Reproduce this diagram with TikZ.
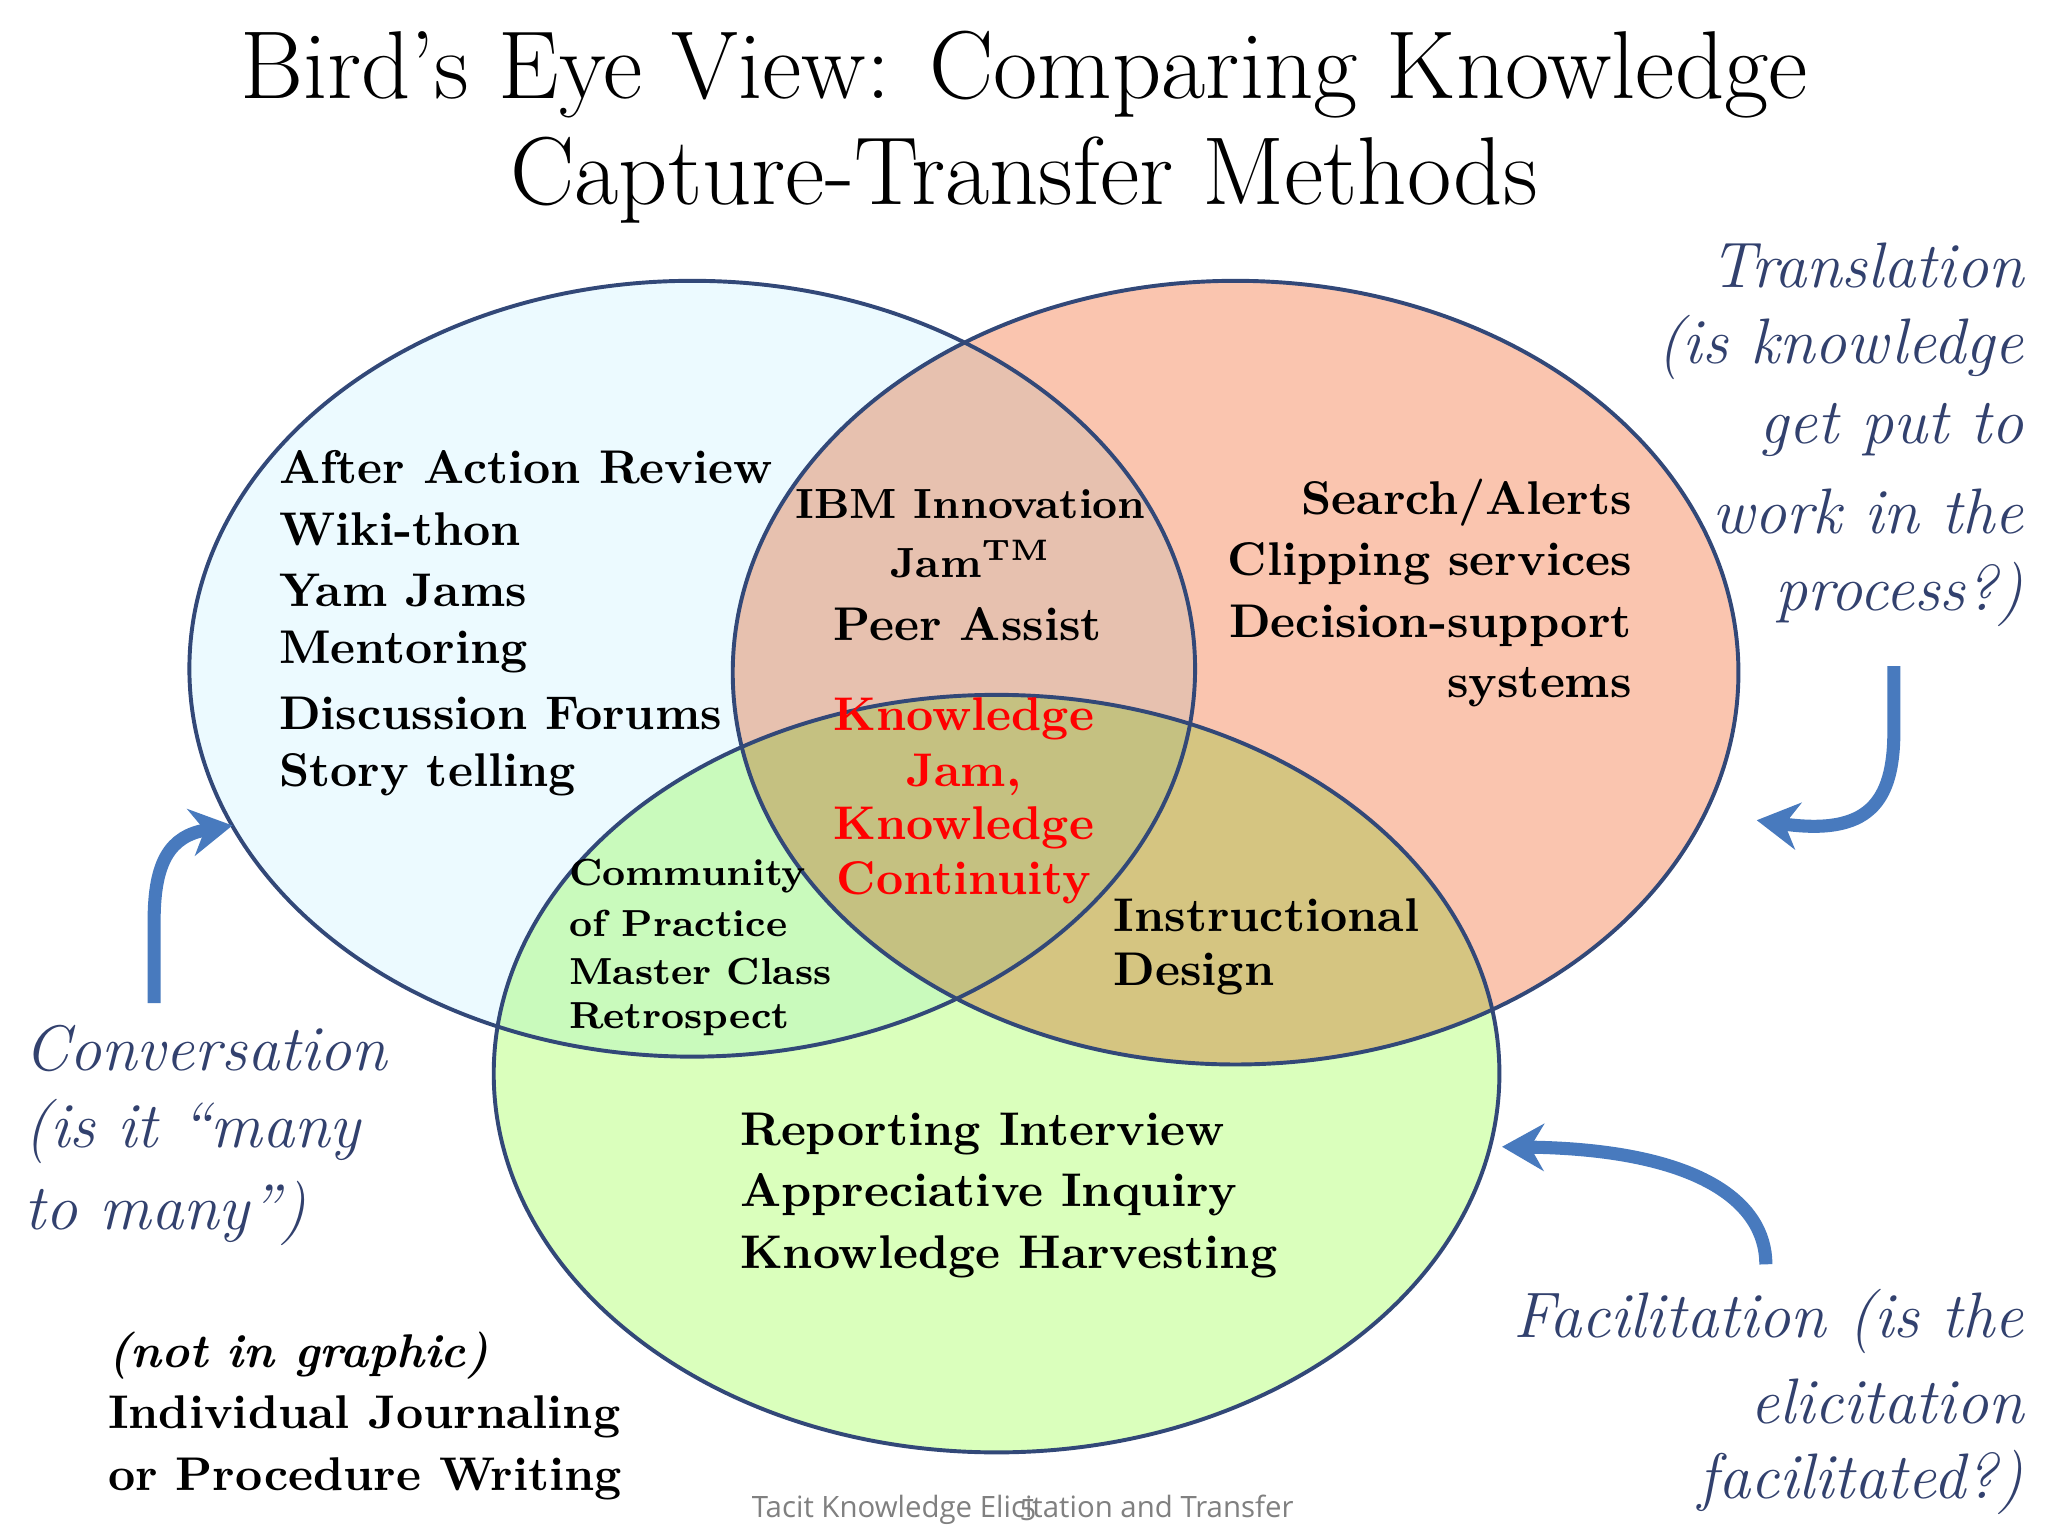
\documentclass[tikz,border=0pt]{standalone}
\usepackage{fontspec}
\newfontfamily\sansf{Open Sans}
\usetikzlibrary{arrows.meta}
\definecolor{cblue}{RGB}{236,250,255}
\definecolor{corange}{RGB}{250,197,175}
\definecolor{cgreen}{RGB}{218,255,188}
\definecolor{edge}{RGB}{50,72,120}
\definecolor{arr}{RGB}{72,122,190}
\definecolor{lab}{RGB}{50,65,110}
\begin{document}
\begin{tikzpicture}[x=0.01cm,y=-0.01cm,
  body/.style={font=\fontsize{10.3}{12}\selectfont\bfseries,inner sep=0pt},
  lft/.style={body,anchor=west},
  rgt/.style={body,anchor=east},
  ctr/.style={body,anchor=center},
  small/.style={font=\fontsize{8.2}{10}\selectfont\bfseries,inner sep=0pt,anchor=west},
  ital/.style={font=\fontsize{14}{16}\selectfont\itshape,text=lab,inner sep=0pt},
  bigarrow/.style={arr,line width=0.1cm,-{Stealth[length=0.32cm,width=0.36cm]}},
  ring/.style={edge,line width=0.03cm}]
\useasboundingbox (0,0) rectangle (1568,1176);
\fill[white] (0,0) rectangle (1568,1176);
\begin{scope}[transparency group]
\begin{scope}[blend mode=multiply]
\fill[cblue] (530,512) ellipse [x radius=385,y radius=297];
\fill[corange] (946,515) ellipse [x radius=385,y radius=300];
\fill[cgreen] (763,822) ellipse [x radius=385,y radius=290];
\end{scope}
\end{scope}
\draw[ring] (530,512) ellipse [x radius=385,y radius=297];
\draw[ring] (946,515) ellipse [x radius=385,y radius=300];
\draw[ring] (763,822) ellipse [x radius=385,y radius=290];

\node[font=\fontsize{21}{24}\selectfont,align=center] (t1) at (784,57) {Bird’s Eye View: Comparing Knowledge};
\node[font=\fontsize{21}{24}\selectfont,align=center] (t2) at (784,138) {Capture-Transfer Methods};

\node[lft] (a1) at (213,358) {After Action Review};
\node[lft] (a2) at (213,405) {Wiki-thon};
\node[lft] (a3) at (213,452) {Yam Jams};
\node[lft] (a4) at (213,499) {Mentoring};
\node[lft] (a5) at (213,546) {Discussion Forums};
\node[lft] (a6) at (213,593) {Story telling};

\node[ctr,font=\fontsize{9.2}{11}\selectfont\bfseries] (b1) at (743,386) {IBM Innovation};
\node[ctr,font=\fontsize{9.2}{11}\selectfont\bfseries] (b2) at (743,428) {Jam\textsuperscript{TM}};
\node[ctr] (b3) at (741,478) {Peer Assist};

\node[rgt] (c1) at (1250,385) {Search/Alerts};
\node[rgt] (c2) at (1250,432) {Clipping services};
\node[rgt] (c3) at (1250,479) {Decision-support};
\node[rgt] (c4) at (1250,526) {systems};

\node[ctr,text=red] (d1) at (738,550) {Knowledge};
\node[ctr,text=red] (d2) at (738,593) {Jam,};
\node[ctr,text=red] (d3) at (738,634) {Knowledge};
\node[ctr,text=red] (d4) at (738,676) {Continuity};

\node[small] (e1) at (435,671) {Community};
\node[small] (e2) at (435,707) {of Practice};
\node[small] (e3) at (435,744) {Master Class};
\node[small] (e4) at (435,780) {Retrospect};

\node[lft] (f1) at (852,701) {Instructional};
\node[lft] (f2) at (852,746) {Design};

\node[lft] (g1) at (566,868) {Reporting Interview};
\node[lft] (g2) at (566,915) {Appreciative Inquiry};
\node[lft] (g3) at (566,962) {Knowledge Harvesting};

\node[lft,font=\fontsize{10.3}{12}\selectfont\bfseries\itshape] (h1) at (82,1038) {(not in graphic)};
\node[lft] (h2) at (82,1085) {Individual Journaling};
\node[lft] (h3) at (82,1132) {or Procedure Writing};

\node[ital,anchor=east] (i1) at (1550,203) {Translation};
\node[ital,anchor=east] (i2) at (1550,266) {(is knowledge};
\node[ital,anchor=east] (i3) at (1550,329) {get put to};
\node[ital,anchor=east] (i4) at (1550,392) {work in the};
\node[ital,anchor=east] (i5) at (1550,455) {process?)};

\node[ital,anchor=west] (j1) at (18,803) {Conversation};
\node[ital,anchor=west] (j2) at (18,866) {(is it “many};
\node[ital,anchor=west] (j3) at (18,929) {to many”)};

\node[ital,anchor=east] (k1) at (1550,1012) {Facilitation (is the};
\node[ital,anchor=east] (k2) at (1550,1073) {elicitation};
\node[ital,anchor=east] (k3) at (1550,1135) {facilitated?)};

\node[font=\sansf\fontsize{6.4}{7}\selectfont,text=gray,inner sep=0pt] (ft) at (783,1156) {Tacit Knowledge Elicitation and Transfer};
\node[font=\sansf\fontsize{6.4}{7}\selectfont,text=gray,inner sep=0pt] (pg) at (787,1156) {5};

\coordinate (la) at (118,768);
\coordinate (lb) at (178,632);
\coordinate (ra) at (1450,510);
\coordinate (rb) at (1345,628);
\coordinate (fa) at (1352,968);
\coordinate (fb) at (1150,878);
\draw[bigarrow] (la) -- (118,705) .. controls (118,660) and (130,640) .. (lb);
\draw[bigarrow] (ra) -- (1450,560) .. controls (1450,615) and (1430,640) .. (rb);
\draw[bigarrow] (fa) .. controls (1352,920) and (1300,880) .. (fb);
\end{tikzpicture}
\end{document}
